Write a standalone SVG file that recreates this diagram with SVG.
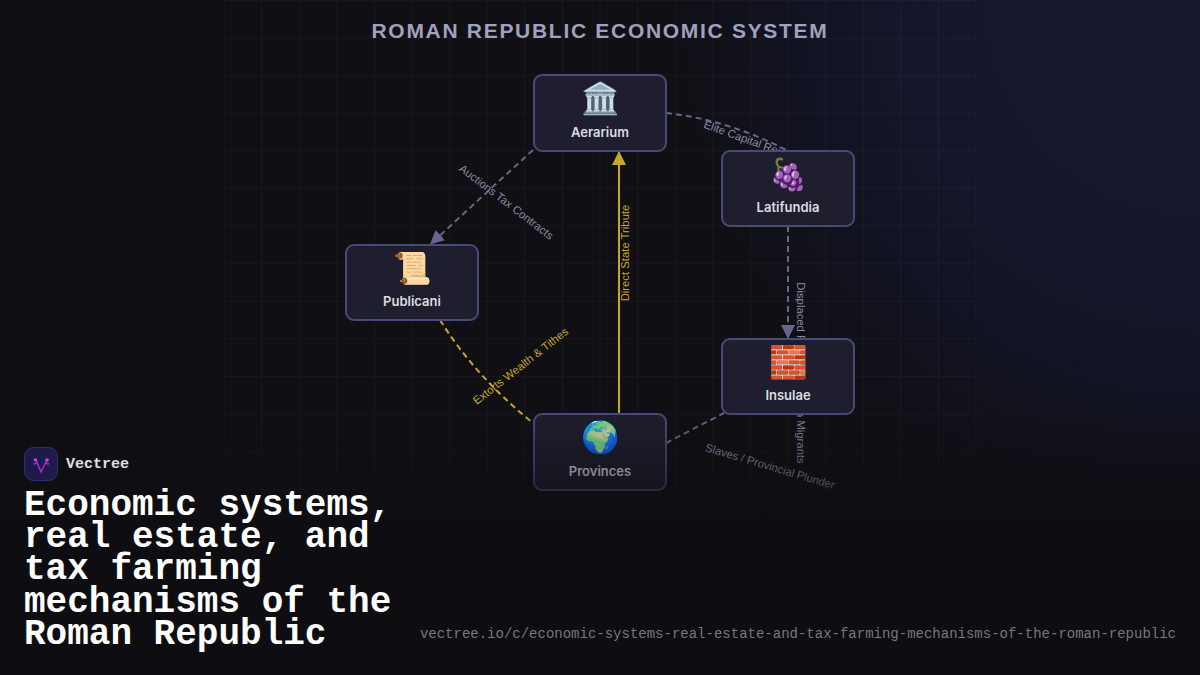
<svg xmlns="http://www.w3.org/2000/svg" width="1200" height="675" viewBox="0 0 1200 675">
<style>
.n{fill:#1e1e2e;stroke:#4a4a7a;stroke-width:2}
.nl{font:600 13px Inter,"Liberation Sans",Arial,sans-serif;fill:#dcdce0;text-anchor:middle}
.em{font:31px "Noto Color Emoji","Liberation Sans",sans-serif;text-anchor:middle}
.el{font:11.300px "Liberation Sans",Arial,sans-serif;fill:#8a8aa0;text-anchor:middle}
.eg{fill:#c8a52d}
.c{fill:none;stroke:#66668a;stroke-width:2;stroke-dasharray:6 4}
.g{stroke:#c8a52d}
</style>
<defs>
<radialGradient id="corner" gradientUnits="userSpaceOnUse" cx="1200" cy="0" r="540"><stop offset="0" stop-color="#16182f"/><stop offset=".55" stop-color="#14162b"/><stop offset="1" stop-color="#14162b" stop-opacity="0"/></radialGradient>
<linearGradient id="fade" x1="0" y1="0" x2="0" y2="1"><stop offset="0" stop-color="#0d0d12" stop-opacity="0"/><stop offset="1" stop-color="#0d0d12"/></linearGradient>
<marker id="ag" markerWidth="16" markerHeight="14" refX="14" refY="7" orient="auto" markerUnits="userSpaceOnUse"><path d="M0 0L14 7L0 14Z" fill="#c8a52d"/></marker>
<marker id="ap" markerWidth="16" markerHeight="14" refX="14" refY="7" orient="auto" markerUnits="userSpaceOnUse"><path d="M0 0L14 7L0 14Z" fill="#66668a"/></marker>
<pattern id="gridp" x="223.500" y="0" width="37.600" height="37.600" patternUnits="userSpaceOnUse"><path d="M0 .5H37.600M.5 0V37.600" fill="none" stroke="#fff" stroke-opacity=".03"/></pattern>
</defs>
<rect id="bg" width="1200" height="675" fill="#0f0f14"/>
<rect x="600" width="600" height="560" fill="url(#corner)"/>
<rect x="223.500" y="0" width="753" height="490" fill="url(#gridp)"/>
<text x="600" y="38" text-anchor="middle" style="font:bold 21px 'Liberation Sans',Arial,sans-serif;letter-spacing:1.700px" fill="#a0a0c0">ROMAN REPUBLIC ECONOMIC SYSTEM</text>
<g id="connectors">
<path class="c" d="M533 150L430 244.500" marker-end="url(#ap)"/>
<path class="c g" d="M440 320Q475 376 533 423"/>
<path d="M619 414V151" fill="none" stroke="#c8a52d" stroke-width="2" marker-end="url(#ag)"/>
<path class="c" d="M666 113Q730 120 790 152"/>
<path class="c" d="M788 226V339" marker-end="url(#ap)"/>
<path class="c" d="M666 443L724 413"/>
<text class="el" transform="translate(504 205) rotate(37.500)">Auctions Tax Contracts</text>
<text class="el eg" transform="translate(523 369) rotate(-38)">Extorts Wealth &amp; Tithes</text>
<text class="el eg" transform="translate(628.500 253) rotate(-90)">Direct State Tribute</text>
<text class="el" transform="translate(703 127.500) rotate(20)" style="text-anchor:start">Elite Capital Reinvestment</text>
<text class="el" transform="translate(796.500 373) rotate(90)">Displaced Farmers / Urban Migrants</text>
<text class="el" transform="translate(769 470) rotate(16.500)">Slaves / Provincial Plunder</text>
</g>
<g id="aerarium"><rect class="n" x="534" y="75" width="132" height="76" rx="8"/><text class="em" x="601" y="109">🏛️</text><text class="nl" x="600" y="136.500">Aerarium</text></g>
<g id="latifundia"><rect class="n" x="722" y="151" width="132" height="75" rx="8"/><text class="em" x="789" y="185">🍇</text><text class="nl" x="788" y="212">Latifundia</text></g>
<g id="publicani"><rect class="n" x="346" y="245" width="132" height="75" rx="8"/><text class="em" x="412.500" y="279">📜</text><text class="nl" x="412" y="306">Publicani</text></g>
<g id="insulae"><rect class="n" x="722" y="339" width="132" height="75" rx="8"/><text class="em" x="789" y="373">🧱</text><text class="nl" x="788" y="400">Insulae</text></g>
<g id="provinces"><rect class="n" x="534" y="414" width="132" height="76" rx="8"/><text class="em" x="601" y="448">🌍</text><text class="nl" x="600" y="476">Provinces</text></g>
<rect x="0" y="410" width="1200" height="150" fill="url(#fade)"/>
<rect x="0" y="560" width="1200" height="115" fill="#0d0d12"/>
<g id="brand"><rect x="24.500" y="447.500" width="33" height="33" rx="9" fill="#1e1b4b" stroke="#312e81"/>
<path d="M36 460L41 472L47 460M33.500 464L37.500 463M49 464L44.500 463" fill="none" stroke="#a02fc4" stroke-width="1.500"/><circle cx="35.500" cy="460" r="1.800" fill="#b44bd8"/><circle cx="47" cy="460" r="1.800" fill="#b44bd8"/>
<text x="66" y="468" style="font:bold 15px 'Liberation Mono',monospace" fill="#e0e0e0">Vectree</text></g>
<g id="headline" style="font:bold 36px 'Liberation Mono',monospace" fill="#fff"><text x="24" y="514.500">Economic systems,</text><text x="24" y="546.900">real estate, and</text><text x="24" y="579.300">tax farming</text><text x="24" y="611.700">mechanisms of the</text><text x="24" y="644.100">Roman Republic</text></g>
<text x="1176" y="638" text-anchor="end" style="font:14px 'Liberation Mono',monospace" fill="#77777f">vectree.io/c/economic-systems-real-estate-and-tax-farming-mechanisms-of-the-roman-republic</text>
</svg>
